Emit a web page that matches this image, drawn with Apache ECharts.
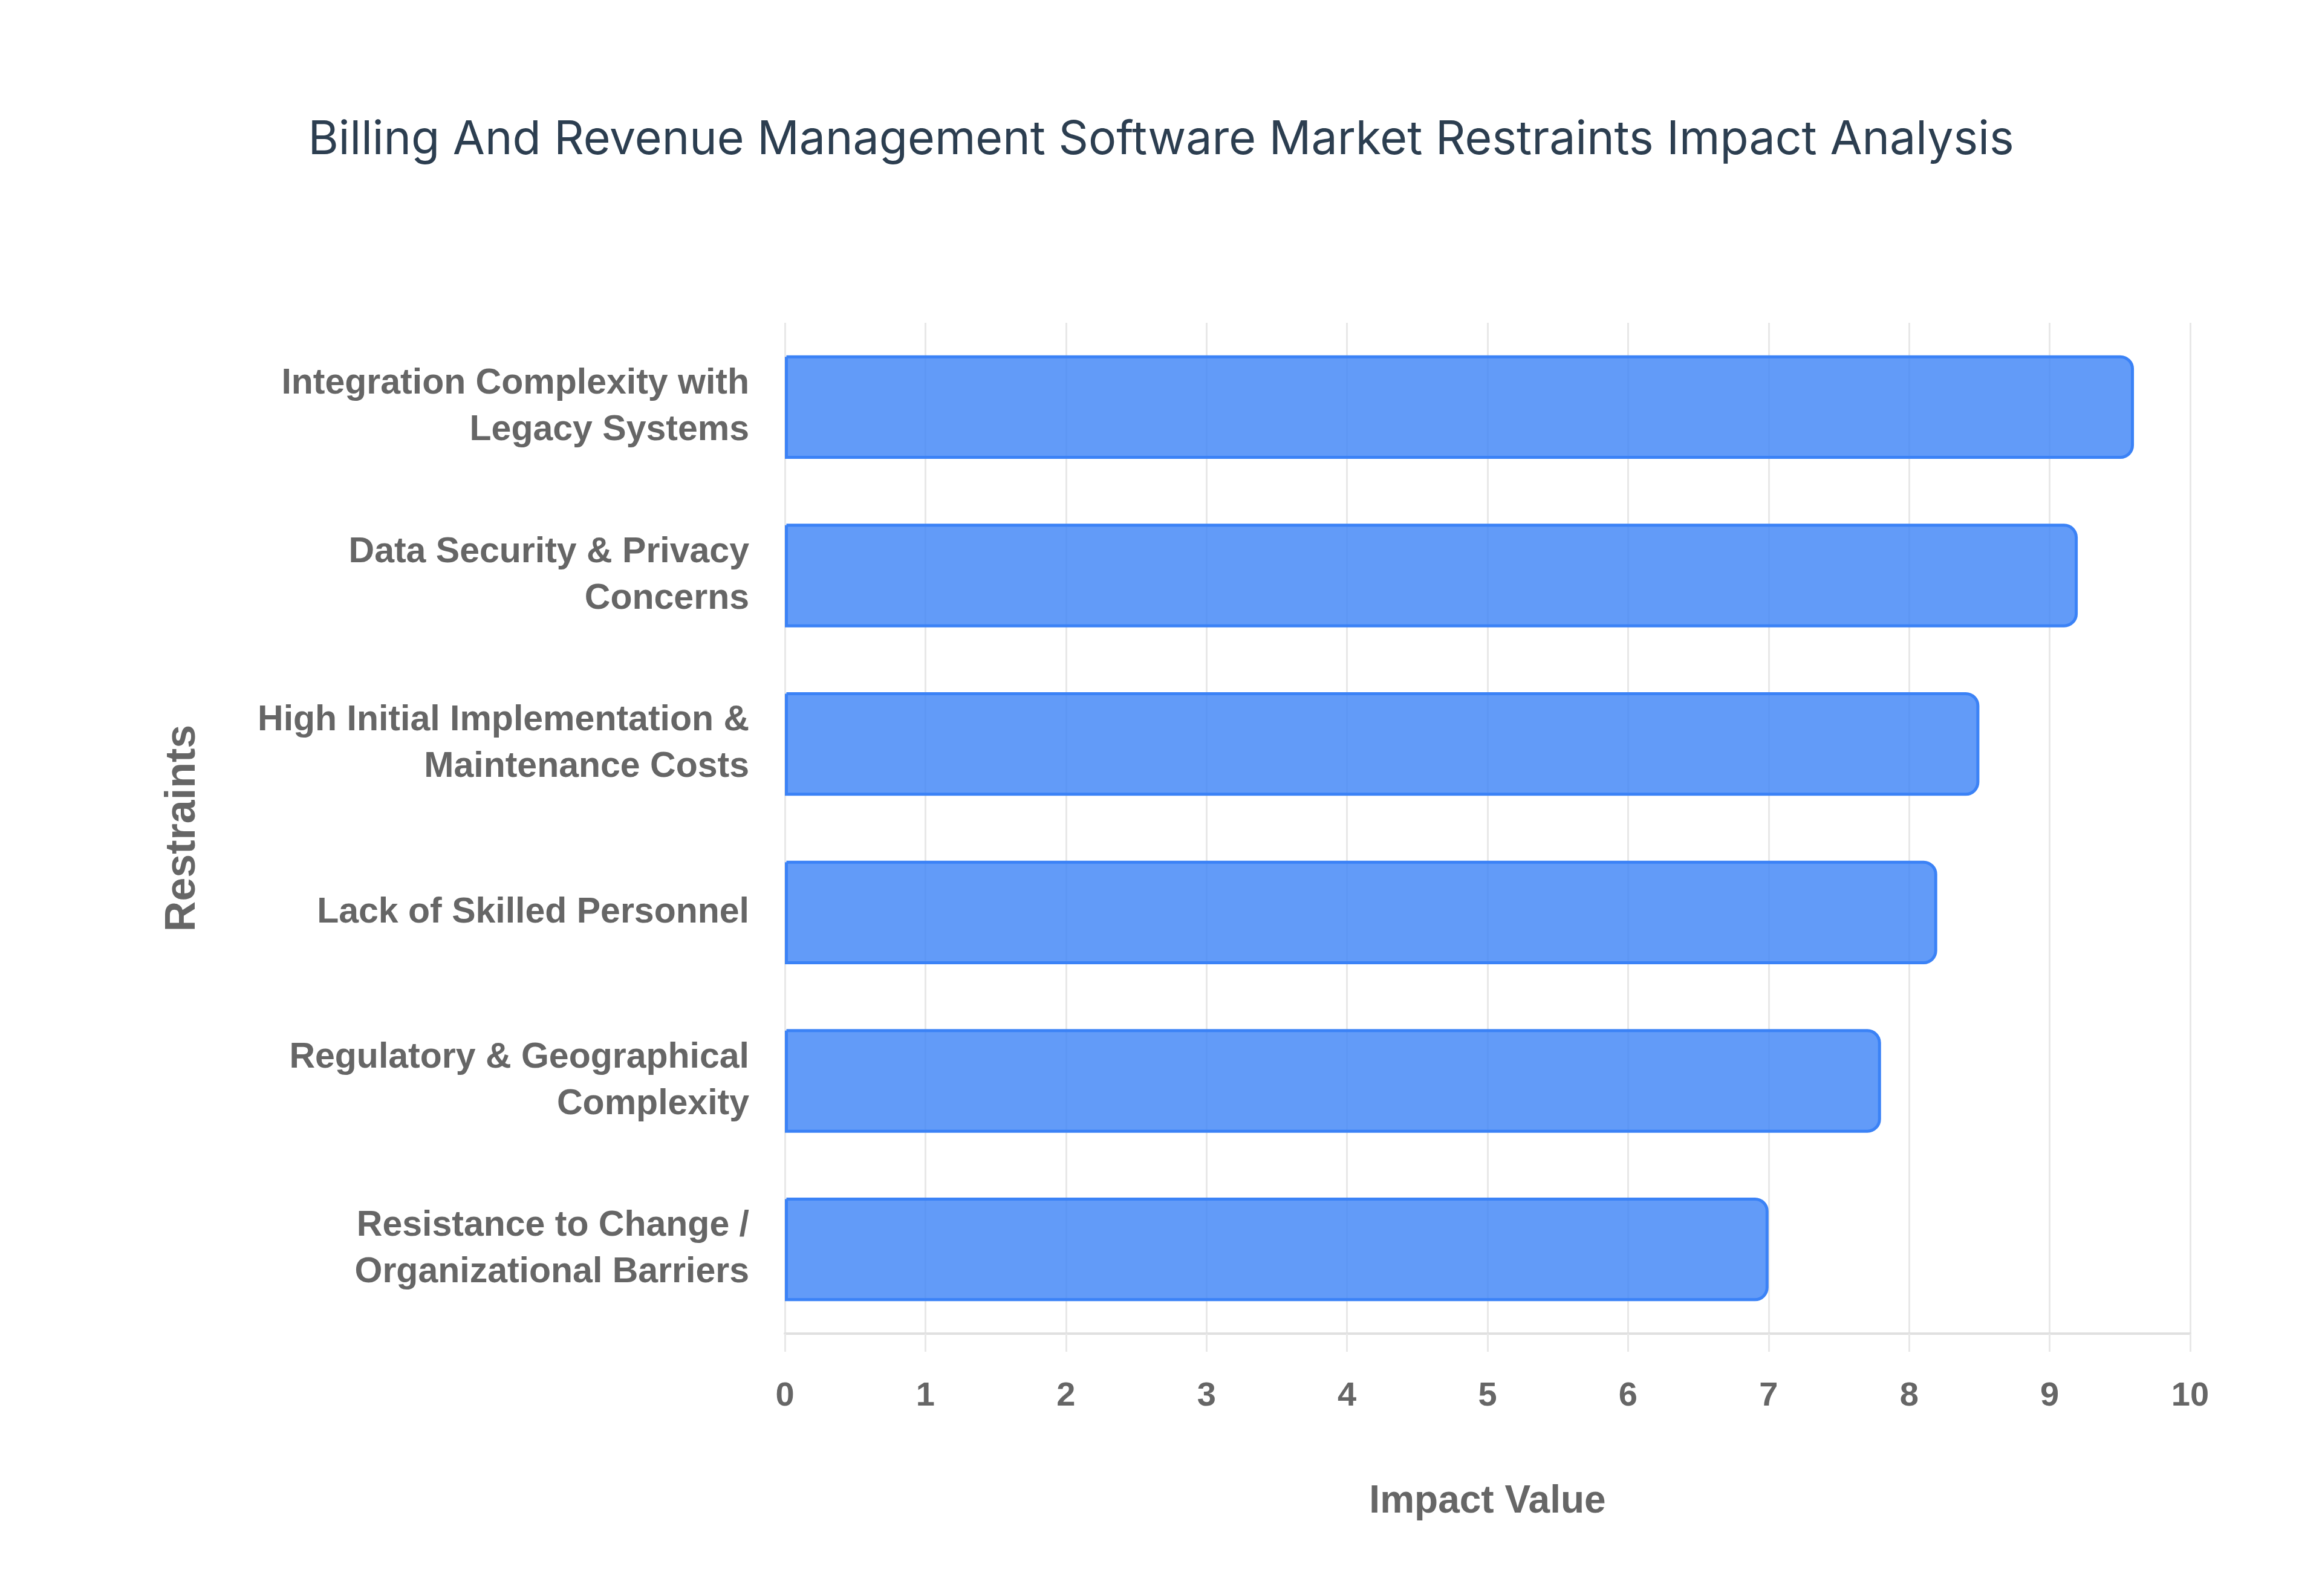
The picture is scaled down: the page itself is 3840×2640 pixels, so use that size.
<!DOCTYPE html>
<html>
<head>
<meta charset="utf-8">
<script src="https://cdn.jsdelivr.net/npm/echarts@6/dist/echarts.min.js"></script>
<style>
html,body{margin:0;padding:0;background:#fff;}
#chart{width:3840px;height:2640px;}
</style>
</head>
<body>
<div id="chart"></div>
<script>
const titleText = 'Billing And Revenue Management Software Market Restraints Impact Analysis';
const categories = [
  'Integration Complexity with\nLegacy Systems',
  'Data Security & Privacy\nConcerns',
  'High Initial Implementation &\nMaintenance Costs',
  'Lack of Skilled Personnel',
  'Regulatory & Geographical\nComplexity',
  'Resistance to Change /\nOrganizational Barriers'
];
const impactValues = [9.6, 9.2, 8.5, 8.2, 7.8, 7.0];
const xAxisName = 'Impact Value';
const yAxisName = 'Restraints';

const chart = echarts.init(document.getElementById('chart'), null, {renderer: 'canvas'});
chart.setOption({
  backgroundColor: '#ffffff',
  animation: false,
  title: {
    text: titleText,
    left: 'center',
    top: 188,
    textStyle: {
      fontFamily: 'Inter',
      fontSize: 77,
      fontWeight: 'normal',
      color: '#2c3e50'
    }
  },
  grid: {
    left: 1298,
    right: 218,
    top: 534,
    bottom: 434,
    containLabel: false
  },
  xAxis: {
    type: 'value',
    min: 0,
    max: 10,
    interval: 1,
    name: xAxisName,
    nameLocation: 'middle',
    nameGap: 246,
    nameTextStyle: {
      fontFamily: 'Liberation Sans, Arial, sans-serif',
      fontSize: 64,
      fontWeight: 'bold',
      color: '#666666'
    },
    axisLine: {show: true, lineStyle: {color: '#e0e0e0', width: 4}},
    axisTick: {show: true, length: 30, lineStyle: {color: '#e8e8e8', width: 3}},
    axisLabel: {
      margin: 76,
      fontFamily: 'Liberation Sans, Arial, sans-serif',
      fontSize: 56,
      fontWeight: 'bold',
      color: '#666666'
    },
    splitLine: {show: true, lineStyle: {color: '#e8e8e8', width: 3}}
  },
  yAxis: {
    type: 'category',
    data: categories,
    inverse: true,
    name: yAxisName,
    nameLocation: 'middle',
    nameGap: 960,
    nameTextStyle: {
      fontFamily: 'Liberation Sans, Arial, sans-serif',
      fontSize: 70,
      fontWeight: 'bold',
      color: '#666666'
    },
    axisLine: {show: false},
    axisTick: {show: false},
    splitLine: {show: false},
    axisLabel: {
      margin: 59,
      fontFamily: 'Liberation Sans, Arial, sans-serif',
      fontSize: 59,
      fontWeight: 'bold',
      lineHeight: 77,
      color: '#666666',
      align: 'right'
    }
  },
  series: [{
    type: 'bar',
    data: impactValues,
    barCategoryGap: '38.5%',
    itemStyle: {
      color: 'rgba(59,130,246,0.8)',
      borderColor: '#3b82f6',
      borderWidth: 5,
      borderRadius: [0, 20, 20, 0]
    }
  }]
});
</script>
</body>
</html>
